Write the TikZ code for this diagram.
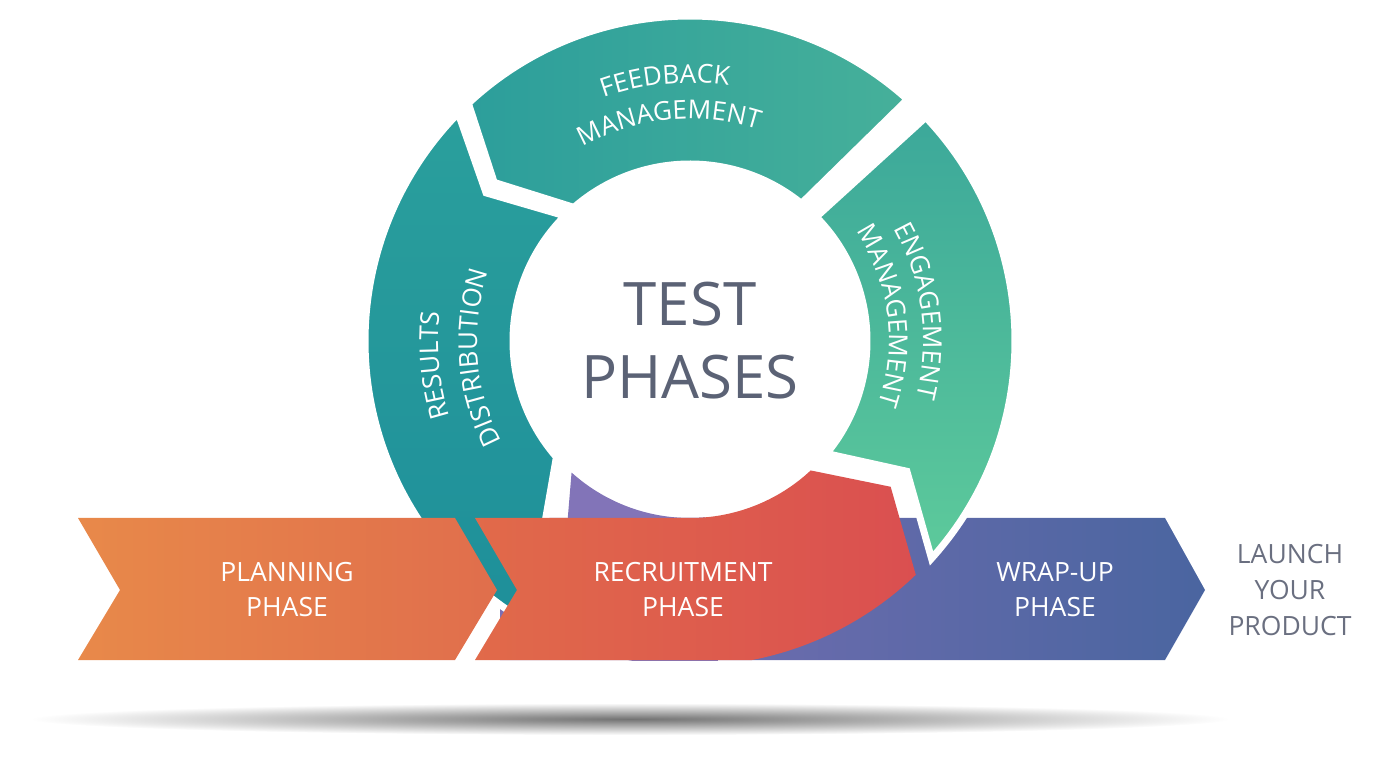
\documentclass[tikz,border=0pt]{standalone}
\usepackage{fontspec}
\setmainfont{Open Sans}
\usetikzlibrary{decorations.text}
\definecolor{tgrey}{HTML}{5B6275}
\definecolor{lgrey}{HTML}{6A6F80}
\definecolor{wuL}{HTML}{7C6FB4}
\definecolor{wuR}{HTML}{4A65A0}
\definecolor{purp}{HTML}{8274B8}
\definecolor{rdT}{HTML}{2A9F9C}
\definecolor{rdB}{HTML}{1E8F9A}
\definecolor{rcL}{HTML}{E16A4A}
\definecolor{rcR}{HTML}{DA4F50}
\definecolor{plL}{HTML}{E8894A}
\definecolor{plR}{HTML}{E06E4C}
\definecolor{enT}{HTML}{3CA89A}
\definecolor{enB}{HTML}{5DCA9B}
\definecolor{fbL}{HTML}{2C9E9B}
\definecolor{fbR}{HTML}{46B09A}
\tikzset{
  gapline/.style={draw=white,line width=7pt,line join=miter},
  bandtxt/.style={text=white,font=\fontsize{26.5}{35}\selectfont,align=center},
  ringtxt/.style={decorate,decoration={text along path,text align=center,
     text={|\fontsize{26}{26}\selectfont\color{white}|#1}}}
}
\begin{document}
\begin{tikzpicture}[x=1pt,y=1pt,shift={(690,419)}]
\useasboundingbox (-690,-419) rectangle (690,341);
% shadow
\shade[inner color=black!55,outer color=white] (-60,-378) ellipse (600 and 16);
% wrap-up band
\path[left color=wuL,right color=wuR]
  (-190,-177) -- (475,-177) -- (515,-249) -- (475,-319) -- (-190,-319) -- cycle;
% purple ring piece
\begin{scope}
\clip (-400,-319) rectangle (400,0);
\fill[purp] (228:177) arc[start angle=228,end angle=275,radius=177]
  -- (275:325) arc[start angle=275,end angle=246,radius=325] -- cycle;
\end{scope}
% results distribution
\path[gapline,top color=rdT,bottom color=rdB]
  (135.5:325) arc[start angle=135.5,end angle=240,radius=325] -- (221:177)
  arc[start angle=221,end angle=135,radius=177] -- (144:252) -- cycle;
% recruitment
\path[left color=rcL,right color=rcR]
  (-215,-177) -- (0,-177) arc[start angle=-90,end angle=-47,radius=177] -- (-36:248) -- (-46:325)
  arc[start angle=-46,end angle=-79,radius=325] -- (-215,-319) -- (-173,-249) -- cycle;
% planning
\path[left color=plL,right color=plR]
  (-612,-177) -- (-235,-177) -- (-193,-249) -- (-235,-319) -- (-612,-319) -- (-570,-249) -- cycle;
% engagement
\path[gapline,top color=enT,bottom color=enB]
  (43.5:325) arc[start angle=43.5,end angle=-42,radius=325] -- (-31:253) -- (-39.5:177)
  arc[start angle=-39.5,end angle=44.5,radius=177] -- cycle;
% feedback
\path[gapline,left color=fbL,right color=fbR]
  (133:325) arc[start angle=133,end angle=48,radius=325] -- (51:177)
  arc[start angle=51,end angle=131,radius=177] -- (141:252) -- cycle;
% ring labels
\path[ringtxt=FEEDBACK] (150:258) arc[start angle=150,end angle=41,radius=258];
\path[ringtxt=MANAGEMENT] (150:222) arc[start angle=150,end angle=41,radius=222];
\path[ringtxt=ENGAGEMENT] (62:233) arc[start angle=62,end angle=-47,radius=233];
\path[ringtxt=MANAGEMENT] (62:199) arc[start angle=62,end angle=-47,radius=199];
\path[ringtxt=RESULTS] (240:252) arc[start angle=240,end angle=131,radius=252];
\path[ringtxt=DISTRIBUTION] (239:213) arc[start angle=239,end angle=130,radius=213];
% center
\node[text=tgrey,font=\fontsize{60}{73}\selectfont,align=center] (tp) at (0,0) {TEST\\PHASES};
% band labels
\node[bandtxt] (pl) at (-403,-249) {PLANNING\\PHASE};
\node[bandtxt] (rc) at (-7,-249) {RECRUITMENT\\PHASE};
\node[bandtxt] (wu) at (365,-249) {WRAP-UP\\PHASE};
\node[text=lgrey,font=\fontsize{26.5}{36}\selectfont,align=center] (lp) at (600,-249) {LAUNCH\\YOUR\\PRODUCT};
\end{tikzpicture}
\end{document}
